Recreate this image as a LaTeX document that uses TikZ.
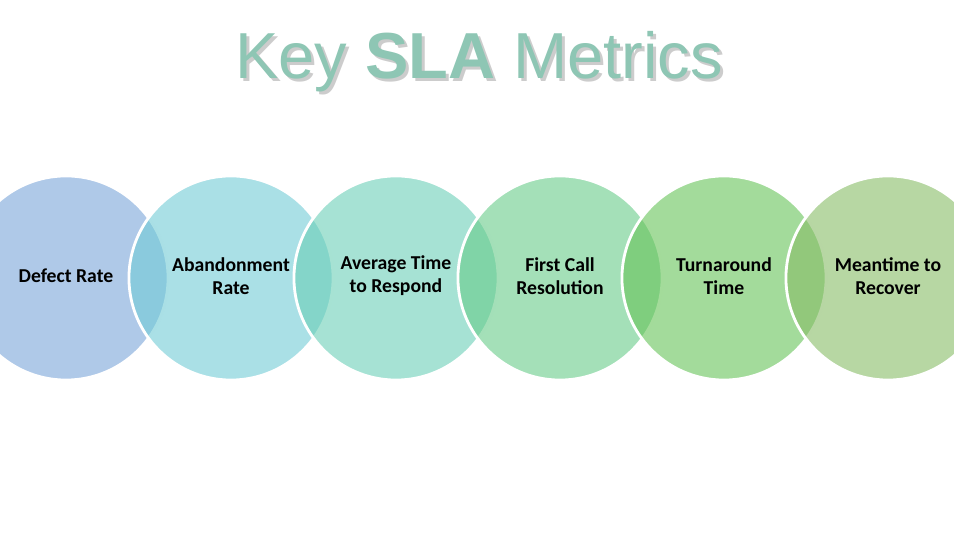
\documentclass[tikz,border=0pt]{standalone}
\usepackage{fontspec}
\setmainfont{Carlito}
\newfontfamily\titlefont{Liberation Sans}
\definecolor{cA}{RGB}{122,165,217}
\definecolor{cB}{RGB}{113,203,213}
\definecolor{cC}{RGB}{107,207,183}
\definecolor{cD}{RGB}{103,203,137}
\definecolor{cE}{RGB}{102,195,88}
\definecolor{cF}{RGB}{135,188,102}
\definecolor{titlegreen}{RGB}{142,198,180}
\begin{document}
\begin{tikzpicture}[x=0.01cm,y=-0.01cm,
    metric/.style={circle,minimum size=2.04cm,inner sep=0pt,draw=white,line width=0.8pt,
      fill opacity=0.6,text opacity=1,align=center,font=\fontsize{5.6}{6.6}\selectfont\bfseries}]
    \useasboundingbox (0,0) rectangle (954,537);
    % title with soft shadow
    \node[text=gray!40,font=\titlefont\fontsize{18.5}{20}\selectfont] at (482,65) {Key \textbf{SLA} Metrics};
    \node (title) [text=titlegreen,font=\titlefont\fontsize{18.5}{20}\selectfont] at (479,62) {Key \textbf{SLA} Metrics};

    % overlapping metric circles
    \node (c1) [metric,fill=cA] at (66,278) {};
    \node (c2) [metric,fill=cB] at (231,278) {};
    \node (c3) [metric,fill=cC] at (396,278) {};
    \node (c4) [metric,fill=cD] at (560,278) {};
    \node (c5) [metric,fill=cE] at (724,278) {};
    \node (c6) [metric,fill=cF] at (888,278) {};

    % labels
    \node (l1) [metric,draw=none,fill=none] at (66,276) {Defect Rate};
    \node (l2) [metric,draw=none,fill=none] at (231,276) {Abandonment\\Rate};
    \node (l3) [metric,draw=none,fill=none] at (396,276) {Average Time\\to Respond};
    \node (l4) [metric,draw=none,fill=none] at (560,276) {First Call\\Resolution};
    \node (l5) [metric,draw=none,fill=none] at (724,276) {Turnaround\\Time};
    \node (l6) [metric,draw=none,fill=none] at (888,276) {Meantime to\\Recover};
\end{tikzpicture}
\end{document}
